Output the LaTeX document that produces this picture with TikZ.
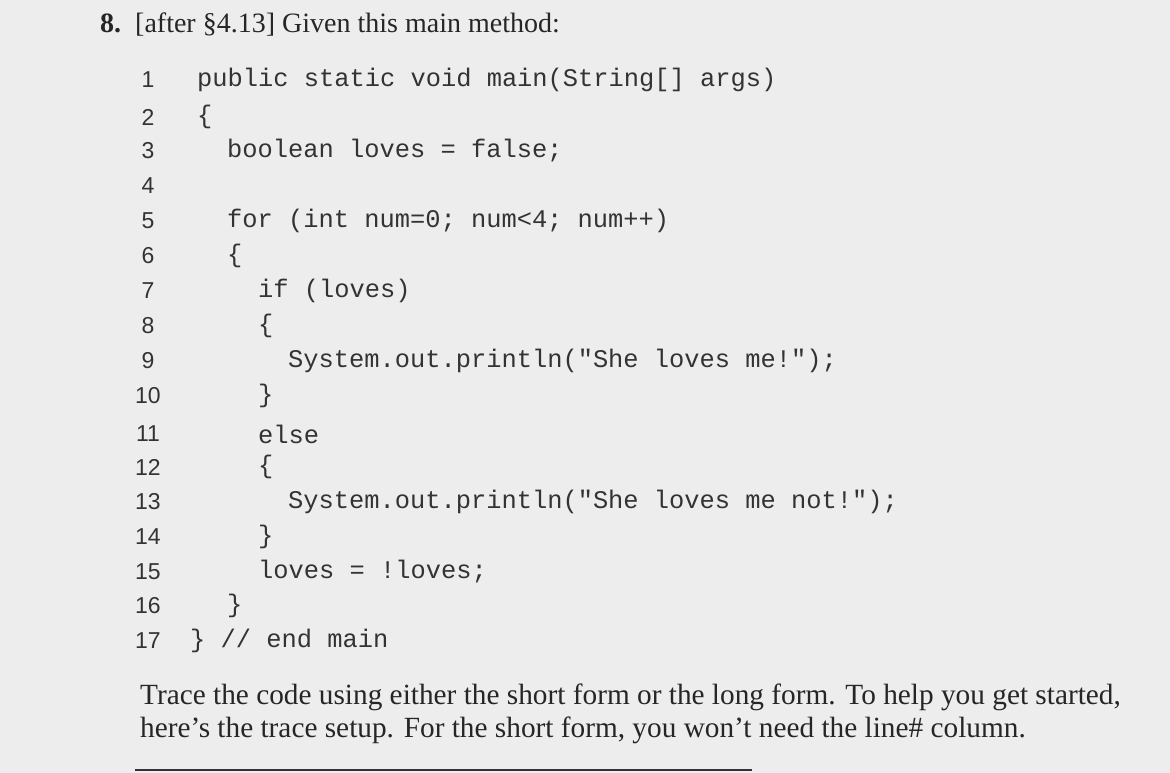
\documentclass[tikz,border=0pt]{standalone}
\usepackage{fontspec}
\setmainfont{Liberation Serif}
\setmonofont{Liberation Mono}
\setsansfont{Liberation Sans}
\begin{document}
\begin{tikzpicture}[x=1pt,y=-1pt,
  code/.style={anchor=west,inner sep=0pt,font=\fontsize{25.4}{30}\selectfont\ttfamily,text=black!80},
  num/.style={anchor=center,inner sep=0pt,font=\fontsize{23}{26}\selectfont\sffamily,text=black!80},
  prose/.style={anchor=west,inner sep=0pt,font=\fontsize{29.3}{32}\selectfont,text=black!85}]
\fill[gray!14] (0,0) rectangle (1170,773);
\useasboundingbox (0,0) rectangle (1170,773);
\node[prose,font=\fontsize{28}{32}\selectfont] (title) at (100,25) {\textbf{8.}\ \ [after §4.13] Given this main method:};
\foreach \i/\y in {1/80,2/117,3/151,4/186,5/221,6/256,7/291,8/326,9/361,10/396,11/434,12/467,13/502,14/537,15/572,16/606,17/641}
  \node[num] (n\i) at (148,\y) {\i};
\node[code] (c1) at (197,80) {public static void main(String[] args)};
\node[code] (c2) at (197,117) {\{};
\node[code] (c3) at (227,151) {boolean loves = false;};
\node[code] (c5) at (227,221) {for (int num=0; num<4; num++)};
\node[code] (c6) at (227,256) {\{};
\node[code] (c7) at (258,291) {if (loves)};
\node[code] (c8) at (258,326) {\{};
\node[code] (c9) at (288,361) {System.out.println("She loves me!");};
\node[code] (c10) at (258,396) {\}};
\node[code] (c11) at (258,434) {else};
\node[code] (c12) at (258,467) {\{};
\node[code] (c13) at (288,502) {System.out.println("She loves me not!");};
\node[code] (c14) at (258,537) {\}};
\node[code] (c15) at (258,572) {loves = !loves;};
\node[code] (c16) at (227,606) {\}};
\node[code] (c17) at (190,641) {\} // end main};
\node[prose] (p1) at (140,697) {Trace the code using either the short form or the long form. To help you get started,};
\node[prose] (p2) at (140,730) {here’s the trace setup. For the short form, you won’t need the line\# column.};
\draw[line width=2pt,black!80] (135,770) -- (752,770);
\end{tikzpicture}
\end{document}
